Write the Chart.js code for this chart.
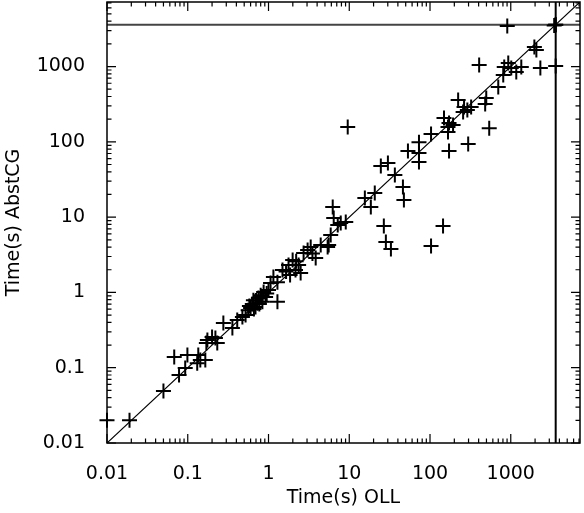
<!DOCTYPE html>
<html>
<head>
<meta charset="utf-8">
<script src="https://cdn.jsdelivr.net/npm/chart.js@4"></script>
<style>
  html, body { margin: 0; padding: 0; background: #fff; }
  #wrap { width: 584px; height: 513px; }
</style>
</head>
<body>
<div id="wrap"><canvas id="timeChart"></canvas></div>
<script>
// Run times in seconds (OLL on x, AbstCG on y)
var ollTimes = [
  0.01, 0.019, 0.05, 0.078, 0.093, 0.068, 0.099, 0.135, 0.143, 0.165,
  0.131, 0.175, 0.20, 0.22, 0.232, 0.17, 0.276, 0.357, 0.41, 0.475,
  0.52, 0.60, 0.65, 0.73, 0.75, 0.80, 0.87, 0.92, 0.69, 0.84,
  1.0, 1.29, 1.06, 1.15, 1.29, 1.49, 1.77, 1.99, 2.16, 2.36,
  2.5, 2.72, 3.05, 3.33, 3.84, 4.43, 5.56, 5.89, 7.2, 7.84,
  9.05, 26.8, 28.4, 32.8, 103, 145, 9.57, 406, 905, 1960,
  2075, 3600, 3600, 3450, 3600, 2325, 830, 931, 1014, 1170,
  1350, 807, 700, 497, 482, 223, 264, 323, 257, 290,
  149, 172, 167, 193, 167, 541, 103, 297, 172, 73,
  53.3, 73, 73, 24.6, 30.1, 36.7, 46.2, 47.5, 15.6, 20.7,
  18.5, 6.24, 6.42, 5.4, 0.56, 0.63, 0.70, 0.77, 0.82, 0.95,
  0.66, 0.58, 1.65, 2.2, 1.85, 3.5
];
var abstTimes = [
  0.02, 0.02, 0.049, 0.08, 0.099, 0.139, 0.147, 0.147, 0.127, 0.127,
  0.115, 0.233, 0.256, 0.248, 0.213, 0.213, 0.392, 0.337, 0.43, 0.471,
  0.50, 0.62, 0.79, 0.72, 0.84, 0.92, 1.01, 0.87, 0.64, 0.75,
  1.08, 0.75, 1.33, 1.6, 1.37, 1.98, 2.31, 2.69, 1.98, 2.31,
  1.81, 3.34, 3.66, 4.01, 2.86, 4.26, 4.26, 5.78, 7.85, 8.35,
  8.61, 7.62, 4.67, 3.77, 4.13, 7.62, 157, 1047, 3450, 1815,
  1656, 3600, 3600, 3500, 1016, 955, 985, 1112, 955, 845,
  985, 771, 535, 382, 318, 359, 290, 290, 249, 265,
  207, 178, 157, 167, 135, 152, 127, 93.5, 75.5, 99,
  75.5, 71, 54, 47.7, 52.3, 36.2, 25.1, 16.9, 17.9, 20.9,
  13.6, 13.6, 9.73, 4.0, 0.58, 0.70, 0.78, 0.70, 0.88, 0.97,
  0.60, 0.66, 1.9, 2.6, 1.7, 3.3
];
var axisMin = 0.01;
var axisMax = 7200;
var timeout = 3600;
var tickLabels = ['0.01', '0.1', '1', '10', '100', '1000'];

var points = ollTimes.map(function (x, i) {
  return { x: x, y: abstTimes[i] };
});

function decadeLabel(value) {
  var e = Math.log10(value);
  var r = Math.round(e);
  if (Math.abs(e - r) > 1e-6) return '';
  var idx = r + 2;
  return idx >= 0 && idx < tickLabels.length ? tickLabels[idx] : '';
}

// no extra room for labels at the ends of the axes
function noPadding(scale) {
  scale.paddingTop = 0;
  scale.paddingBottom = 0;
  scale.paddingLeft = 0;
  scale.paddingRight = 0;
}

// gnuplot style frame with inward ticks on all four sides
var frameTicks = {
  id: 'frameTicks',
  afterDraw: function (chart) {
    var ctx = chart.ctx;
    var a = chart.chartArea;
    var xs = chart.scales.x, ys = chart.scales.y;
    ctx.save();
    ctx.strokeStyle = '#000';
    ctx.lineWidth = 1.5;
    ctx.strokeRect(a.left, a.top, a.right - a.left, a.bottom - a.top);
    ctx.lineWidth = 1.2;
    ctx.beginPath();
    for (var d = -2; d <= 3; d++) {
      for (var k = 1; k <= 9; k++) {
        var v = k * Math.pow(10, d);
        if (v < axisMin || v > axisMax) continue;
        var len = k === 1 ? 9 : 4.5;
        var px = xs.getPixelForValue(v);
        ctx.moveTo(px, a.bottom); ctx.lineTo(px, a.bottom - len);
        ctx.moveTo(px, a.top); ctx.lineTo(px, a.top + len);
        var py = ys.getPixelForValue(v);
        ctx.moveTo(a.left, py); ctx.lineTo(a.left + len, py);
        ctx.moveTo(a.right, py); ctx.lineTo(a.right - len, py);
      }
    }
    ctx.stroke();
    ctx.restore();
  }
};

var font = { family: '"DejaVu Sans", sans-serif', size: 19 };

new Chart(document.getElementById('timeChart'), {
  type: 'scatter',
  data: {
    datasets: [{
      label: 'runs',
      data: points,
      pointStyle: 'cross',
      pointRadius: 7.5,
      pointBorderWidth: 2,
      borderColor: '#000',
      backgroundColor: '#000',
      clip: false
    }, {
      label: 'y = x',
      type: 'line',
      data: [{ x: axisMin, y: axisMin }, { x: axisMax, y: axisMax }],
      borderColor: '#000',
      borderWidth: 1.2,
      pointRadius: 0
    }, {
      label: 'timeout y',
      type: 'line',
      data: [{ x: axisMin, y: timeout }, { x: axisMax, y: timeout }],
      borderColor: '#444',
      borderWidth: 2,
      pointRadius: 0
    }, {
      label: 'timeout x',
      type: 'line',
      data: [{ x: timeout, y: axisMin }, { x: timeout, y: axisMax }],
      borderColor: '#000',
      borderWidth: 2,
      pointRadius: 0
    }]
  },
  options: {
    responsive: true,
    maintainAspectRatio: false,
    animation: false,
    layout: {
      autoPadding: false,
      padding: { top: 2, right: 4, left: 0, bottom: 0 }
    },
    plugins: {
      legend: { display: false },
      tooltip: { enabled: false }
    },
    scales: {
      x: {
        type: 'logarithmic',
        min: axisMin,
        max: axisMax,
        grid: { display: false },
        border: { display: false },
        ticks: {
          autoSkip: false,
          maxRotation: 0,
          padding: 12,
          color: '#000',
          font: font,
          callback: function (value) { return decadeLabel(value); }
        },
        title: {
          display: true,
          text: 'Time(s) OLL',
          color: '#000',
          font: font,
          padding: { top: 0, bottom: 4 }
        },
        afterFit: function (scale) { scale.height = 70; noPadding(scale); }
      },
      y: {
        type: 'logarithmic',
        min: axisMin,
        max: axisMax,
        grid: { display: false },
        border: { display: false },
        ticks: {
          autoSkip: false,
          padding: 14,
          color: '#000',
          font: font,
          callback: function (value) { return decadeLabel(value); }
        },
        title: {
          display: true,
          text: 'Time(s) AbstCG',
          color: '#000',
          font: font,
          padding: { top: 3, bottom: 0 }
        },
        afterFit: function (scale) { scale.width = 107; noPadding(scale); }
      }
    }
  },
  plugins: [frameTicks]
});
</script>
</body>
</html>
